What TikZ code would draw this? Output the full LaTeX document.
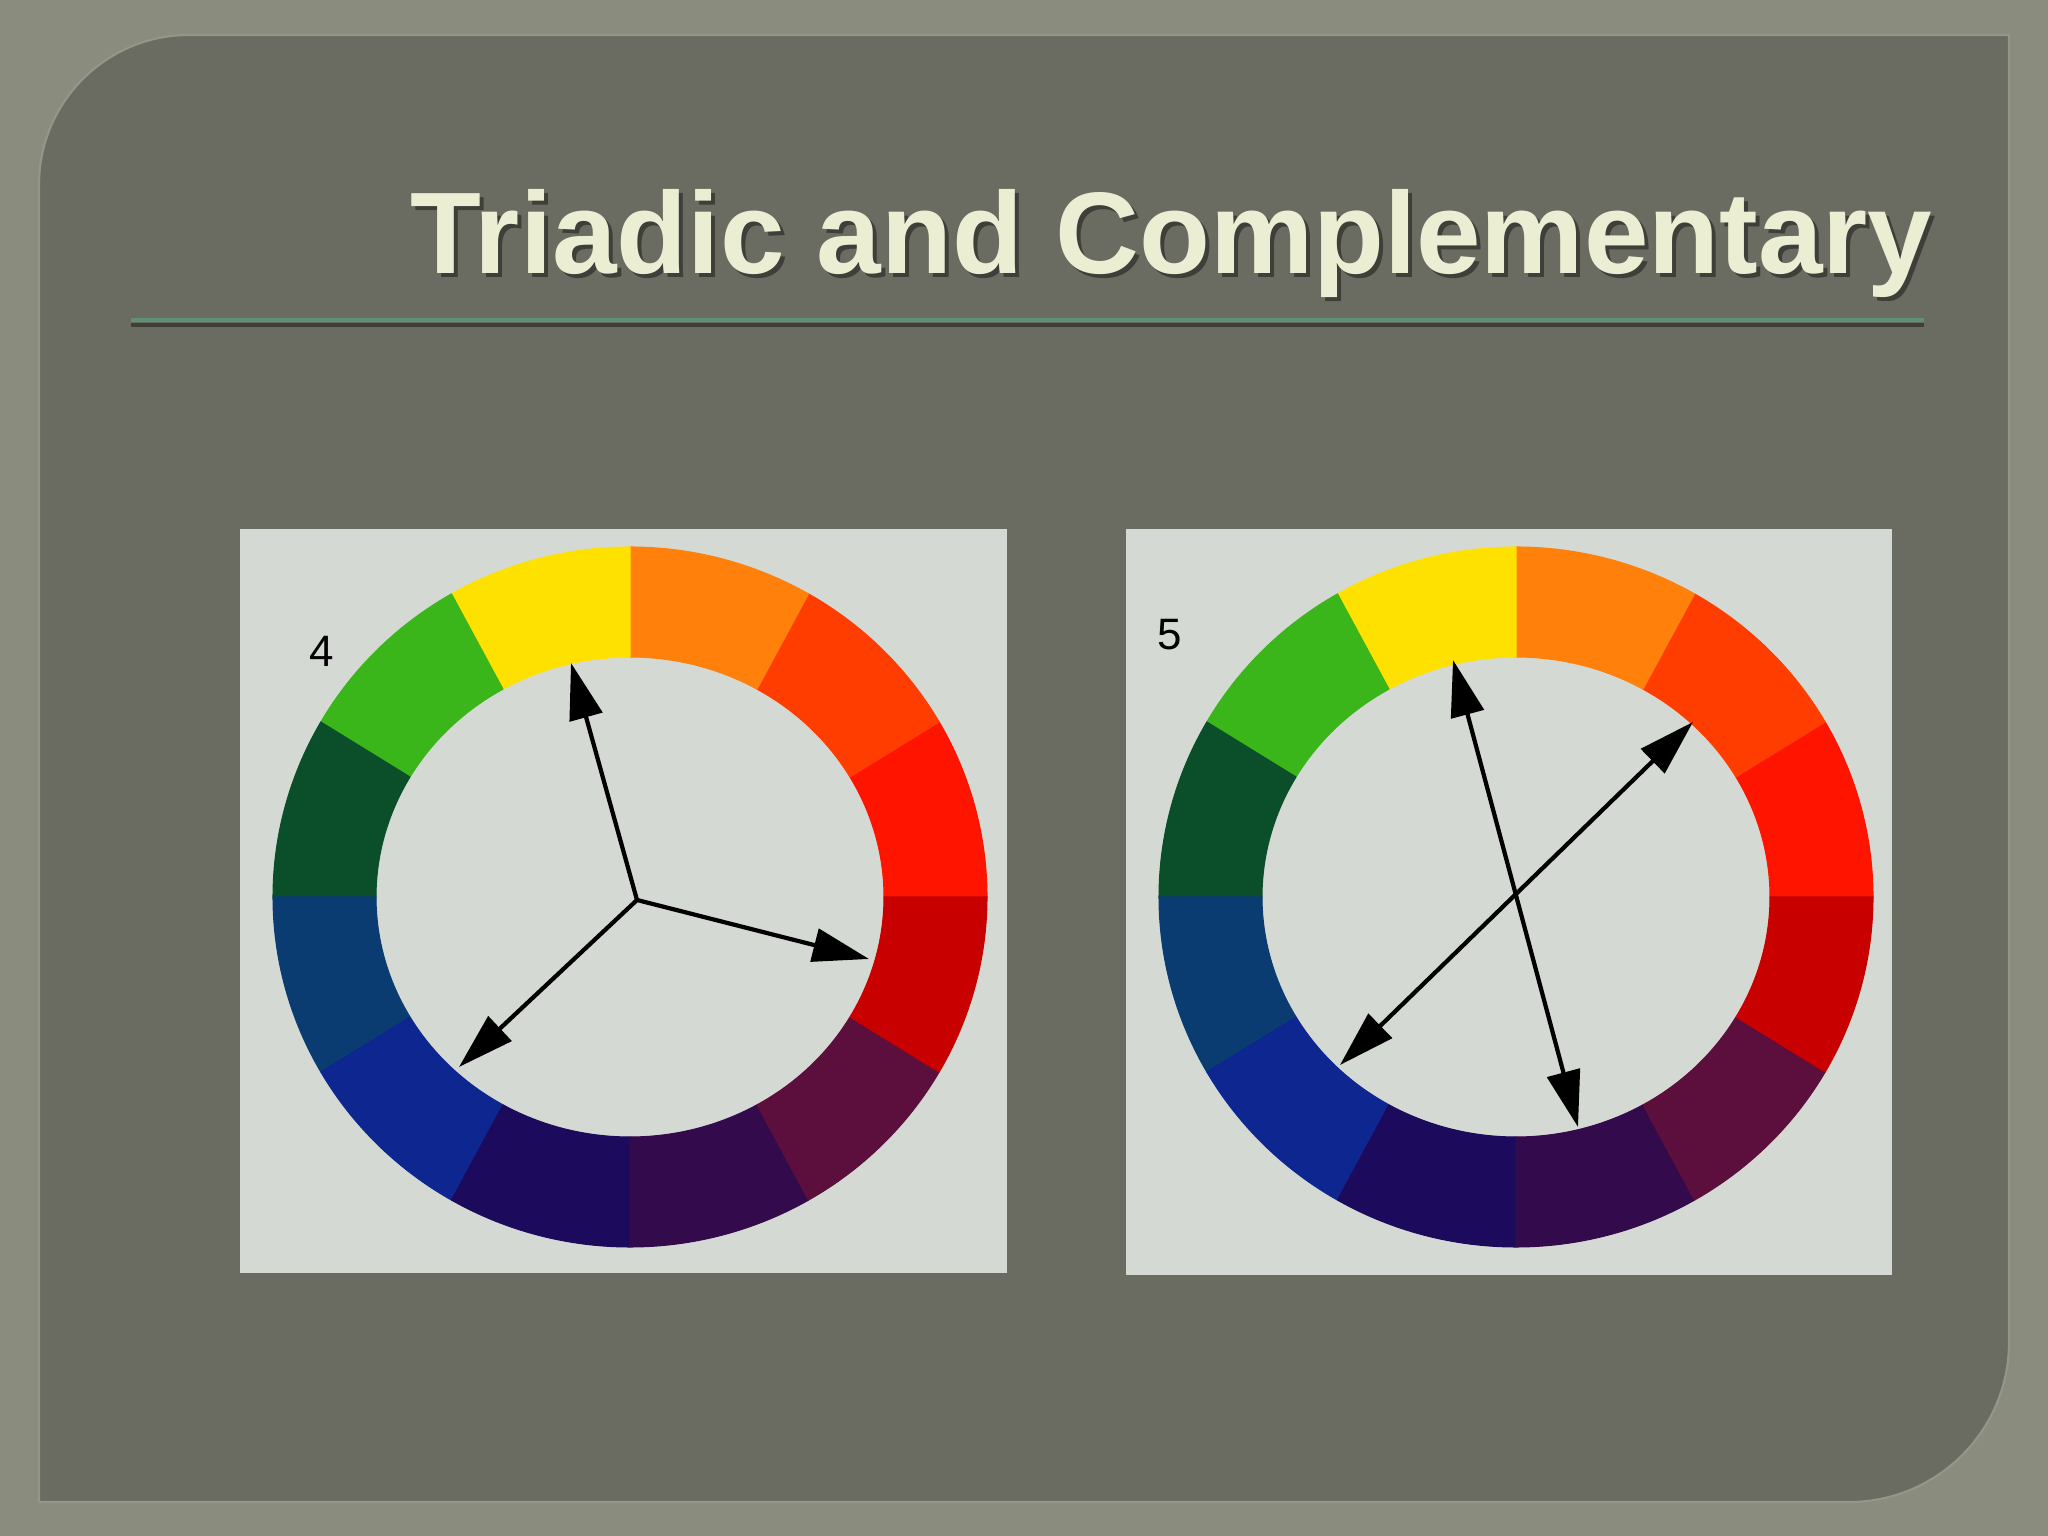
\documentclass[tikz,border=0pt]{standalone}
\usepackage{fontspec}
\setmainfont{Liberation Sans}
\usetikzlibrary{arrows.meta}
\definecolor{outerbg}{HTML}{8A8C7E}
\definecolor{panelbg}{HTML}{6A6B61}
\definecolor{paneledge}{HTML}{94968A}
\definecolor{boxbg}{HTML}{D5D9D3}
\definecolor{titletext}{HTML}{EBEED3}
\definecolor{tshadow}{HTML}{3E3F38}
\definecolor{rulecol}{HTML}{5E9078}
\definecolor{wRed}{HTML}{FF1400}
\definecolor{wRedOr}{HTML}{FF3D00}
\definecolor{wOrange}{HTML}{FF800A}
\definecolor{wYellow}{HTML}{FFE100}
\definecolor{wGreen}{HTML}{3AB51A}
\definecolor{wDkGreen}{HTML}{0A4F2A}
\definecolor{wTeal}{HTML}{0A3C72}
\definecolor{wBlue}{HTML}{0D2690}
\definecolor{wIndigo}{HTML}{1C0A5C}
\definecolor{wPurple}{HTML}{330A4C}
\definecolor{wPlum}{HTML}{5C0F3C}
\definecolor{wDkRed}{HTML}{C80000}
\tikzset{
 ptr/.style={line width=1.2pt, -{Triangle[length=16pt,width=9.5pt]}},
 dptr/.style={line width=1.2pt, {Triangle[length=16pt,width=9.5pt]}-{Triangle[length=16pt,width=9.5pt]}},
 titlefont/.style={font=\bfseries\fontsize{33}{40}\selectfont},
 numfont/.style={font=\fontsize{12.5}{15}\selectfont}
}
\begin{document}
\begin{tikzpicture}[x=0.01cm, y=0.01cm, line join=round]
 \fill[outerbg] (0,0) rectangle (2048,1536);
 \useasboundingbox (0,0) rectangle (2048,1536);
 \filldraw[fill=panelbg, draw=paneledge, line width=0.6pt] (39,34) -- (39,1351) arc[start angle=180,end angle=90,radius=150] -- (2009,1501) -- (2009,194) arc[start angle=0,end angle=-90,radius=160] -- cycle;
 % titel
 \node[titlefont, anchor=base west, text=tshadow] (titleshadow) at (402,1258) {Triadic and Complementary};
 \node[titlefont, anchor=base west, text=titletext] (title) at (398,1262) {Triadic and Complementary};
 \draw[tshadow, line width=1pt] (131,1211) -- (1924,1211);
 \draw[rulecol, line width=1.2pt] (131,1216) -- (1924,1216);
 % two pictures
 \fill[boxbg] (240,263) rectangle (1007,1007);
 \fill[boxbg] (1126,261) rectangle (1892,1007);
 \foreach \cx in {630,1516}
 \foreach \c [count=\i from 0] in {wRed,wRedOr,wOrange,wYellow,wGreen,wDkGreen,wTeal,wBlue,wIndigo,wPurple,wPlum,wDkRed}
 \filldraw[fill=\c, draw=\c, line width=0.3pt, shift={(\cx,639)}] ({\i*30}:357 and 350) arc[start angle={\i*30}, end angle={\i*30+30}, x radius=357, y radius=350] -- ({\i*30+30}:254 and 240) arc[start angle={\i*30+30}, end angle={\i*30}, x radius=254, y radius=240] -- cycle;
 \node[numfont] (four) at (322,885) {4};
 \node[numfont] (five) at (1170,901) {5};
 % triadic
 \coordinate (hub) at (637,636);
 \coordinate (triY) at (571,873);
 \coordinate (triR) at (869,577);
 \coordinate (triB) at (459,469);
 \draw[ptr] (hub) -- (triY);
 \draw[ptr] (hub) -- (triR);
 \draw[ptr] (hub) -- (triB);
 % complementary
 \coordinate (compY) at (1453,876);
 \coordinate (compV) at (1578,409);
 \coordinate (compO) at (1693,814);
 \coordinate (compB) at (1340,471);
 \draw[dptr] (compY) -- (compV);
 \draw[dptr] (compO) -- (compB);
\end{tikzpicture}
\end{document}
